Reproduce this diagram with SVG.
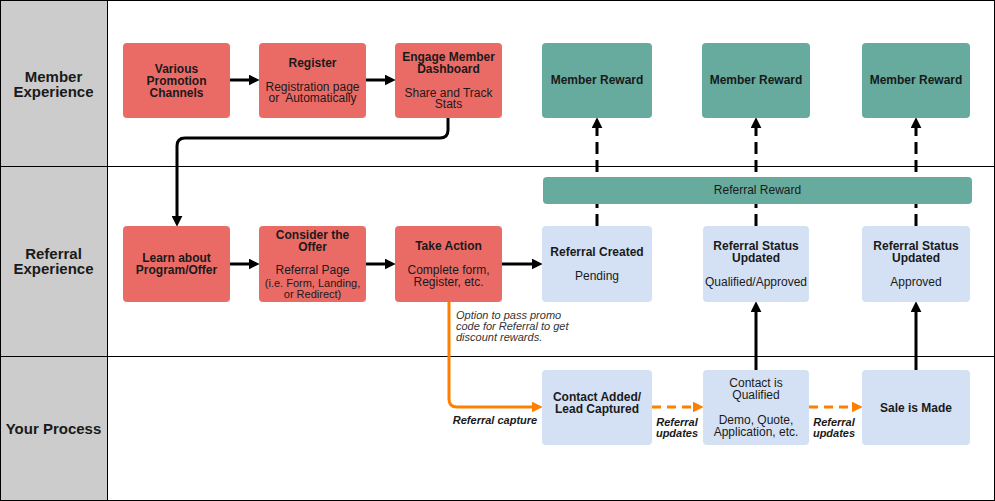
<svg xmlns="http://www.w3.org/2000/svg" width="995" height="501" viewBox="0 0 995 501">
<defs>
<style>
text{font-family:"Liberation Sans",Arial,Helvetica,sans-serif;fill:#1a1a1a}
.lane{font-size:15px;font-weight:bold;text-anchor:middle}
.t{font-size:12px;font-weight:bold;text-anchor:middle}
.b{font-size:12px;text-anchor:middle}
.s{font-size:11px;text-anchor:middle}
.red{fill:#EA6B66}
.grn{fill:#67AB9F}
.blu{fill:#D4E1F5}
.k{fill:none;stroke:#000;stroke-width:3}
.kd{fill:none;stroke:#000;stroke-width:3;stroke-dasharray:12 6}
.o{fill:none;stroke:#FF8000;stroke-width:3}
.od{fill:none;stroke:#FF8000;stroke-width:3;stroke-dasharray:9 6}
.note{font-size:11px;font-style:italic;fill:#333}
.lbl{font-size:11px;font-style:italic;font-weight:bold;text-anchor:middle}
</style>
<marker id="ak" viewBox="0 0 10 10" markerWidth="11" markerHeight="11" refX="3" refY="5" markerUnits="userSpaceOnUse" orient="auto"><path d="M0,0 L10,5 L0,10 z" fill="#000"/></marker>
<marker id="ao" viewBox="0 0 10 10" markerWidth="11" markerHeight="11" refX="3" refY="5" markerUnits="userSpaceOnUse" orient="auto"><path d="M0,0 L10,5 L0,10 z" fill="#FF8000"/></marker>
</defs>
<rect x="0" y="0" width="995" height="501" fill="#fff"/>
<g id="lanes">
<rect x="0.5" y="0.5" width="107" height="500" fill="#CCCCCC" stroke="none"/>
<rect x="0.5" y="0.5" width="994" height="500" fill="none" stroke="#000" stroke-width="1"/>
<line x1="107.5" y1="0" x2="107.5" y2="501" stroke="#000"/>
<line x1="0" y1="166.5" x2="995" y2="166.5" stroke="#000"/>
<line x1="0" y1="356.5" x2="995" y2="356.5" stroke="#000"/>
<text class="lane" x="53.5" y="82">Member</text>
<text class="lane" x="53.5" y="97">Experience</text>
<text class="lane" x="53.5" y="259">Referral</text>
<text class="lane" x="53.5" y="274">Experience</text>
<text class="lane" x="53.5" y="434">Your Process</text>
</g>
<g id="connectors">
<line class="k" x1="230" y1="80" x2="252" y2="80" marker-end="url(#ak)"/>
<line class="k" x1="366" y1="80" x2="388" y2="80" marker-end="url(#ak)"/>
<path class="k" d="M448,118 V130 Q448,138 440,138 H185 Q177,138 177,146 V219" marker-end="url(#ak)"/>
<line class="k" x1="230" y1="264" x2="252" y2="264" marker-end="url(#ak)"/>
<line class="k" x1="366" y1="264" x2="388" y2="264" marker-end="url(#ak)"/>
<line class="k" x1="502" y1="264" x2="535" y2="264" marker-end="url(#ak)"/>
<path class="kd" d="M597,226 V125" marker-end="url(#ak)"/>
<path class="kd" d="M756,226 V125" marker-end="url(#ak)"/>
<path class="kd" d="M916,226 V125" marker-end="url(#ak)"/>
<line class="k" x1="756" y1="370" x2="756" y2="309" marker-end="url(#ak)"/>
<line class="k" x1="916" y1="370" x2="916" y2="309" marker-end="url(#ak)"/>
<path class="o" d="M449,302 V399 Q449,407 457,407 H535" marker-end="url(#ao)"/>
<line class="od" x1="652" y1="407" x2="696" y2="407" marker-end="url(#ao)"/>
<line class="od" x1="809" y1="407" x2="855" y2="407" marker-end="url(#ao)"/>
<text class="note" x="456" y="319">Option to pass promo</text>
<text class="note" x="456" y="330">code for Referral to get</text>
<text class="note" x="456" y="341">discount rewards.</text>
<text class="lbl" x="495" y="424">Referral capture</text>
<text class="lbl" x="677" y="426">Referral</text>
<text class="lbl" x="677" y="437">updates</text>
<text class="lbl" x="834" y="426">Referral</text>
<text class="lbl" x="834" y="437">updates</text>
</g>
<g id="n-promo"><rect class="red" x="123" y="43" width="107" height="75" rx="4"/>
<text class="t" x="176.5" y="73">Various</text><text class="t" x="176.5" y="85">Promotion</text><text class="t" x="176.5" y="97">Channels</text></g>
<g id="n-register"><rect class="red" x="259" y="43" width="107" height="75" rx="4"/>
<text class="t" x="312.5" y="67">Register</text><text class="b" x="312.5" y="91">Registration page</text><text class="b" x="312.5" y="102">or&#160; Automatically</text></g>
<g id="n-engage"><rect class="red" x="395" y="43" width="107" height="75" rx="4"/>
<text class="t" x="448.5" y="61">Engage Member</text><text class="t" x="448.5" y="73">Dashboard</text><text class="b" x="448.5" y="97">Share and Track</text><text class="b" x="448.5" y="108">Stats</text></g>
<g id="n-reward1"><rect class="grn" x="542" y="43" width="110" height="75" rx="4"/><text class="t" x="597" y="84">Member Reward</text></g>
<g id="n-reward2"><rect class="grn" x="702" y="43" width="108" height="75" rx="4"/><text class="t" x="756" y="84">Member Reward</text></g>
<g id="n-reward3"><rect class="grn" x="862" y="43" width="108" height="75" rx="4"/><text class="t" x="916" y="84">Member Reward</text></g>
<g id="n-refreward"><rect class="grn" x="543" y="177" width="429" height="27" rx="4"/><text class="b" x="757.5" y="194">Referral Reward</text></g>
<g id="n-learn"><rect class="red" x="123" y="226" width="107" height="76" rx="4"/>
<text class="t" x="176.5" y="262">Learn about</text><text class="t" x="176.5" y="274">Program/Offer</text></g>
<g id="n-consider"><rect class="red" x="259" y="226" width="107" height="76" rx="4"/>
<text class="t" x="312.5" y="239">Consider the</text><text class="t" x="312.5" y="251">Offer</text><text class="b" x="312.5" y="274">Referral Page</text><text class="s" x="312.5" y="287">(i.e. Form, Landing,</text><text class="s" x="312.5" y="298">or Redirect)</text></g>
<g id="n-action"><rect class="red" x="395" y="226" width="107" height="76" rx="4"/>
<text class="t" x="448.5" y="250">Take Action</text><text class="b" x="448.5" y="274">Complete form,</text><text class="b" x="448.5" y="286">Register, etc.</text></g>
<g id="n-created"><rect class="blu" x="542" y="226" width="110" height="76" rx="4"/>
<text class="t" x="597" y="256">Referral Created</text><text class="b" x="597" y="280">Pending</text></g>
<g id="n-status1"><rect class="blu" x="703" y="226" width="106" height="76" rx="4"/>
<text class="t" x="756" y="250">Referral Status</text><text class="t" x="756" y="262">Updated</text><text class="b" x="756" y="286">Qualified/Approved</text></g>
<g id="n-status2"><rect class="blu" x="862" y="226" width="108" height="76" rx="4"/>
<text class="t" x="916" y="250">Referral Status</text><text class="t" x="916" y="262">Updated</text><text class="b" x="916" y="286">Approved</text></g>
<g id="n-contact"><rect class="blu" x="542" y="370" width="110" height="75" rx="4"/>
<text class="t" x="597" y="401">Contact Added/</text><text class="t" x="597" y="413">Lead Captured</text></g>
<g id="n-qualified"><rect class="blu" x="703" y="370" width="106" height="75" rx="4"/>
<text class="b" x="756" y="387">Contact is</text><text class="b" x="756" y="399">Qualified</text><text class="b" x="756" y="424">Demo, Quote,</text><text class="b" x="756" y="436">Application, etc.</text></g>
<g id="n-sale"><rect class="blu" x="862" y="370" width="108" height="75" rx="4"/>
<text class="t" x="916" y="412">Sale is Made</text></g>
</svg>
